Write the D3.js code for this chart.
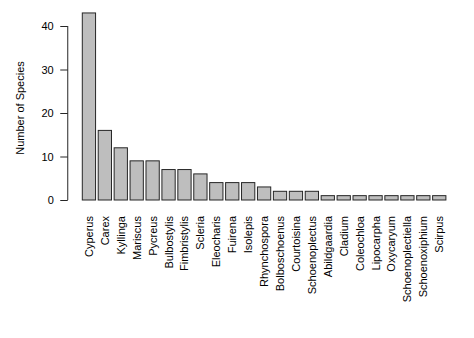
<!DOCTYPE html>
<html>
<head>
<meta charset="utf-8">
<script src="https://cdn.jsdelivr.net/npm/d3@7"></script>
<style>
  html, body { margin: 0; padding: 0; background: #ffffff; }
  svg { display: block; font-family: "Liberation Sans", Arial, Helvetica, sans-serif; }
</style>
</head>
<body>
<svg id="chart" width="474" height="338"></svg>
<script>
// Genera of Cyperaceae and their species counts
const genera = [
  "Cyperus", "Carex", "Kyllinga", "Mariscus", "Pycreus", "Bulbostylis",
  "Fimbristylis", "Scleria", "Eleocharis", "Fuirena", "Isolepis",
  "Rhynchospora", "Bolboschoenus", "Courtoisina", "Schoenoplectus",
  "Abildgaardia", "Cladium", "Coleochloa", "Lipocarpha", "Oxycaryum",
  "Schoenoplectiella", "Schoenoxiphium", "Scirpus"
];
const speciesCounts = [43, 16, 12, 9, 9, 7, 7, 6, 4, 4, 4, 3, 2, 2, 2, 1, 1, 1, 1, 1, 1, 1, 1];
const yTicks = [0, 10, 20, 30, 40];
const yTitle = "Number of Species";

const svg = d3.select("#chart");
const fontSize = 11;
const ink = "#000000";
const lineInk = "#262626";

// Plot region in data units (barplot style: bar width 1, gap 0.2, 4% padding)
const n = genera.length;
const xMinU = 0.2, xMaxU = n * 1.2;
const padX = (xMaxU - xMinU) * 0.04;
const xu = d3.scaleLinear()
  .domain([xMinU - padX, xMaxU + padX])
  .range([67.75, 67.75 + (xMaxU - xMinU + 2 * padX) * 13.27]);

const x = d3.scaleBand()
  .domain(genera)
  .range([xu(xMinU), xu(xMaxU)])
  .paddingInner(1 / 6)
  .paddingOuter(0);

const yMax = d3.max(speciesCounts);
const padY = yMax * 0.04;
const y = d3.scaleLinear()
  .domain([-padY, yMax + padY])
  .range([200 + padY * 4.35, 200 - (yMax + padY) * 4.35]);

// Bars
svg.append("g")
  .selectAll("rect")
  .data(genera.map((g, i) => ({ g, v: speciesCounts[i] })))
  .join("rect")
  .attr("x", d => x(d.g))
  .attr("y", d => y(d.v))
  .attr("width", x.bandwidth())
  .attr("height", d => y(0) - y(d.v))
  .attr("fill", "#bebebe")
  .attr("stroke", lineInk)
  .attr("stroke-width", 1);

// Y axis: line spans only the tick range
const axisX = xu.range()[0];
const yAxis = d3.axisLeft(y)
  .tickValues(yTicks)
  .tickSize(7.5)
  .tickPadding(6.5)
  .tickFormat(d3.format("d"));

const gy = svg.append("g")
  .attr("transform", `translate(${axisX},0)`)
  .call(yAxis);
gy.select(".domain").remove();
gy.append("line")
  .attr("x1", 0).attr("x2", 0)
  .attr("y1", y(yTicks[0])).attr("y2", y(yTicks[yTicks.length - 1]))
  .attr("stroke", lineInk);
gy.selectAll(".tick line").attr("stroke", lineInk);
gy.selectAll(".tick text")
  .attr("fill", ink)
  .style("font-size", fontSize + "px")
  .style("font-family", "'Liberation Sans', Arial, sans-serif");

// Y axis title
svg.append("text")
  .attr("transform", `translate(24,${(y(yTicks[0]) + y(yTicks[yTicks.length - 1])) / 2 - 5}) rotate(-90)`)
  .attr("text-anchor", "middle")
  .attr("fill", ink)
  .style("font-size", fontSize + "px")
  .text(yTitle);

// Category labels, perpendicular to the axis
svg.append("g")
  .selectAll("text")
  .data(genera)
  .join("text")
  .attr("transform", d => `translate(${x(d) + x.bandwidth() / 2 + 4},${y(0) + 16}) rotate(-90)`)
  .attr("text-anchor", "end")
  .attr("fill", ink)
  .style("font-size", fontSize + "px")
  .text(d => d);
</script>
</body>
</html>
